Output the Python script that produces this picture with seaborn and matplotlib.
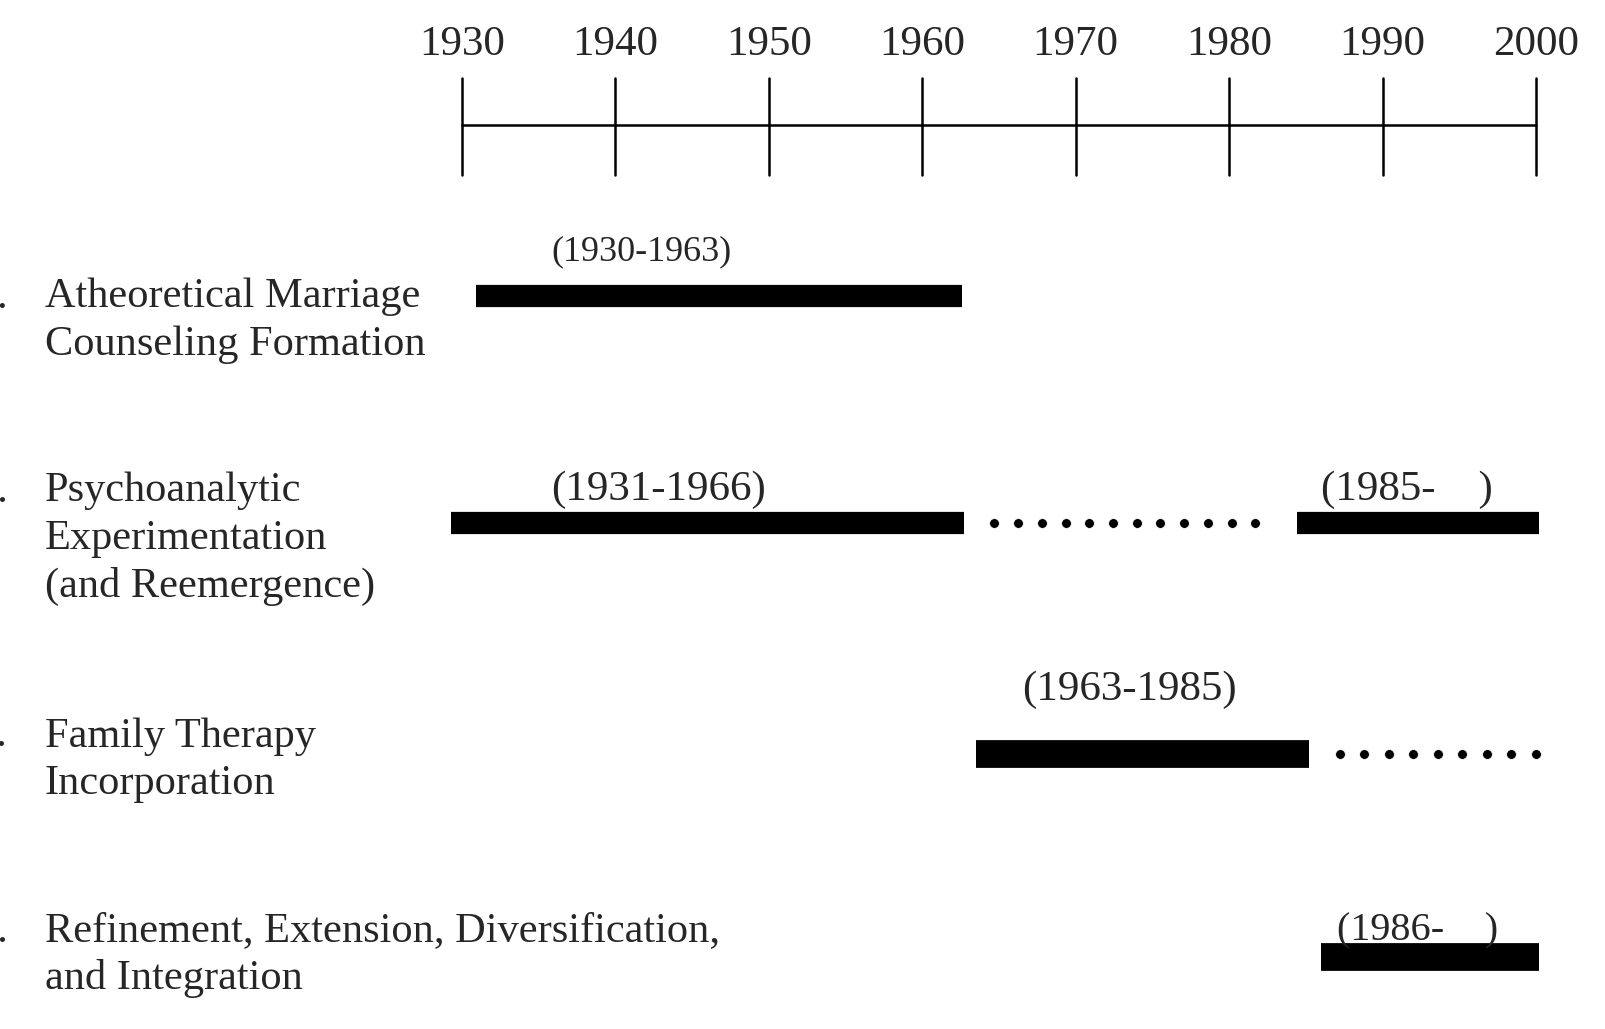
import matplotlib
matplotlib.use("Agg")
import matplotlib.pyplot as plt
import seaborn as sns
import numpy as np
import pandas as pd

sns.set_style("white")
plt.rcParams['font.family'] = ['Liberation Serif', 'DejaVu Serif']

years = [1930, 1940, 1950, 1960, 1970, 1980, 1990, 2000]
phase_numbers = ["1.", "2.", "3.", "4."]
phase_labels = ["Atheoretical Marriage\nCounseling Formation",
                "Psychoanalytic\nExperimentation\n(and Reemergence)",
                "Family Therapy\nIncorporation",
                "Refinement, Extension, Diversification,\nand Integration"]
bar_row = [0, 1, 1, 2, 3]
bar_start = [1930.9, 1929.3, 1984.4, 1963.5, 1986.0]
bar_end = [1962.6, 1962.7, 2000.2, 1985.2, 2000.2]
dot_row = [1, 2]
dot_start = [1964.7, 1987.2]
dot_end = [1981.7, 2000.0]
dot_count = [12, 9]
per_text = ["(1930-1963)", "(1931-1966)", "(1985-    )", "(1963-1985)", "(1986-    )"]
per_x = [1941.7, 1942.8, 1991.6, 1973.5, 1992.3]
per_row = [0, 1, 1, 2, 3]
per_size = [26, 31, 31, 31, 29]

row_y = [296, 523, 754, 957]
row_lw = [16, 16, 20, 20]
per_dy = [-44, -33, -33, -64, -26]
label_y = [278, 472, 717, 912]

px_per_year = (1536 - 462) / 70.0
x0 = 1930 - 462 / px_per_year
x1 = x0 + 1605 / px_per_year

fig = plt.figure(figsize=(16.05, 10.29), dpi=100)
ax = fig.add_axes([0, 0, 1, 1])

ax.plot([1930, 2000], [125, 125], color="black", lw=1.8)
for y in years:
    ax.plot([y, y], [78, 175], color="black", lw=1.8)
    ax.text(y, 45, str(y), ha="center", va="center", fontsize=31)

for r, s, e in zip(bar_row, bar_start, bar_end):
    ax.plot([s, e], [row_y[r], row_y[r]], color="black", lw=row_lw[r], solid_capstyle="butt")

rows = []
for r, s, e, n in zip(dot_row, dot_start, dot_end, dot_count):
    for x in np.linspace(s, e, n):
        rows.append({"x": x, "y": row_y[r]})
sns.scatterplot(data=pd.DataFrame(rows), x="x", y="y", color="black", s=50, ax=ax, legend=False)
ax.set_xlim(x0, x1)
ax.set_ylim(1029, 0)
ax.axis("off")

for t, x, r, fs, dy in zip(per_text, per_x, per_row, per_size, per_dy):
    ax.text(x, row_y[r] + dy, t, ha="center", va="center", fontsize=fs)

lx = x0 + 45 / px_per_year
nx = x0 - 24 / px_per_year
for num, lab, y in zip(phase_numbers, phase_labels, label_y):
    ax.text(lx, y, lab, ha="left", va="top", fontsize=30.5, linespacing=1.3)
    ax.text(nx, y, num, ha="left", va="top", fontsize=30.5)
fig.savefig("out.png", dpi=100)
